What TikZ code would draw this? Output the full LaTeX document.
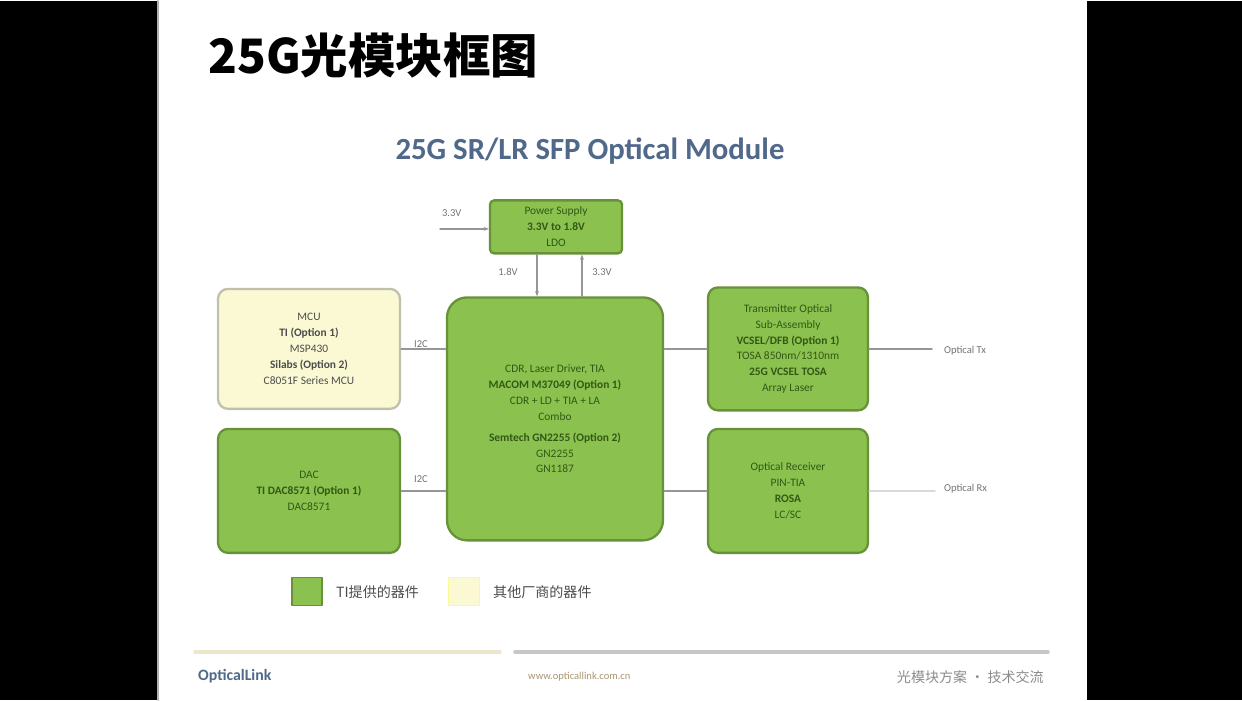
\documentclass[tikz,border=0pt]{standalone}
\usepackage{fontspec}
\setmainfont{Carlito}
\newfontfamily\cjk{Noto Sans CJK SC}
\usetikzlibrary{arrows.meta}
\definecolor{modgreen}{RGB}{139,193,78}
\definecolor{modedge}{RGB}{104,146,58}
\definecolor{modtext}{RGB}{50,88,22}
\definecolor{creamfill}{RGB}{250,249,212}
\definecolor{creamedge}{RGB}{192,192,172}
\definecolor{linegray}{RGB}{150,150,150}
\definecolor{subblue}{RGB}{80,104,138}

\begin{document}
\begin{tikzpicture}[line cap=round,line join=round, x=0.02cm,y=-0.02cm,
    greenbox/.style={draw=modedge,line width=1.3pt,fill=modgreen,text=modtext,align=center,
      inner sep=0pt,font=\fontsize{6.5}{9}\selectfont},
    creambox/.style={draw=creamedge,line width=1.3pt,fill=creamfill,text=black!70,align=center,
      inner sep=0pt,font=\fontsize{6.5}{9}\selectfont},
    wire/.style={draw=linegray,line width=0.8pt},
    tag/.style={text=black!55,font=\fontsize{6}{7}\selectfont,inner sep=1pt}]
	% slide frame
	\fill[black] (0,0) rectangle (1242,699);
	\fill[white] (157,0) rectangle (1087,699);
	\draw[black!30,line width=1pt] (158,0) -- (158,699);
	\useasboundingbox (0,0) rectangle (1242,699);
	% titles
	\node[anchor=west,inner sep=0pt] (title) at (208,55) {\cjk\bfseries\fontsize{27}{30}\selectfont 25G光模块框图};
	\node[text=subblue,inner sep=0pt] (subtitle) at (590,150) {\bfseries\fontsize{17.5}{20}\selectfont 25G SR/LR SFP Optical Module};
	% blocks
	\node[greenbox,rounded corners=0.08cm,minimum width=2.64cm,minimum height=1.06cm] (pwr) at (556,226)
		{Power Supply\\\textbf{3.3V to 1.8V}\\LDO};
	\node[greenbox,rounded corners=0.4cm,minimum width=4.32cm,minimum height=4.86cm] (core) at (555,418)
		{CDR, Laser Driver, TIA\\\textbf{MACOM M37049 (Option 1)}\\CDR + LD + TIA + LA\\Combo\\[3pt]
		\textbf{Semtech GN2255 (Option 2)}\\GN2255\\GN1187};
	\node[creambox,rounded corners=0.2cm,minimum width=3.64cm,minimum height=2.4cm] (mcu) at (309,348)
		{MCU\\\textbf{TI (Option 1)}\\MSP430\\\textbf{Silabs (Option 2)}\\C8051F Series MCU};
	\node[greenbox,rounded corners=0.2cm,minimum width=3.64cm,minimum height=2.48cm] (dac) at (309,490)
		{DAC\\\textbf{TI DAC8571 (Option 1)}\\DAC8571};
	\node[greenbox,rounded corners=0.2cm,minimum width=3.2cm,minimum height=2.46cm] (tosa) at (788,348)
		{Transmitter Optical\\Sub-Assembly\\\textbf{VCSEL/DFB (Option 1)}\\TOSA 850nm/1310nm\\
		\textbf{25G VCSEL TOSA}\\Array Laser};
	\node[greenbox,rounded corners=0.2cm,minimum width=3.2cm,minimum height=2.48cm] (rosa) at (788,490)
		{Optical Receiver\\PIN-TIA\\\textbf{ROSA}\\LC/SC};
	% power rails
	\coordinate (vin) at (440,228);
	\node[tag,anchor=south west] (vinlbl) at (440,218) {3.3V};
	\draw[wire,-{Stealth[length=3pt]}] (vin) -- (vin -| pwr.west);
	\draw[wire,-{Stealth[length=3pt]}] (pwr.south -| 537,0) -- (core.north -| 537,0);
	\draw[wire,{Stealth[length=3pt]}-] (pwr.south -| 582,0) -- (core.north -| 582,0);
	\node[tag] (railA) at (508,271) {1.8V};
	\node[tag] (railB) at (602,271) {3.3V};
	% links
	\draw[wire] (mcu.east) -- (mcu.east -| core.west);
	\node[tag] (busA) at (421,343) {I2C};
	\draw[wire] (dac.east) -- (dac.east -| core.west);
	\node[tag] (busB) at (421,478) {I2C};
	\draw[wire] (core.east |- tosa.west) -- (tosa.west);
	\draw[wire] (core.east |- rosa.west) -- (rosa.west);
	\coordinate (txend) at (932,348);
	\coordinate (rxend) at (935,490);
	\draw[wire] (tosa.east) -- (txend);
	\draw[wire,draw=black!15] (rosa.east) -- (rxend);
	\node[tag,anchor=west] (txlbl) at (942,350) {Optical Tx};
	\node[tag,anchor=west] (rxlbl) at (942,488) {Optical Rx};
	% legend
	\node[fill=modgreen,draw=modedge,line width=0.6pt,minimum width=0.6cm,minimum height=0.56cm] (keyA) at (307,591) {};
	\node[anchor=west,text=black!70,font=\cjk\fontsize{8}{9}\selectfont] (keyAlbl) at (330,591) {TI提供的器件};
	\node[fill=creamfill,draw=creamfill!70!yellow,line width=0.6pt,minimum width=0.62cm,minimum height=0.56cm] (keyB) at (464,591) {};
	\node[anchor=west,text=black!70,font=\cjk\fontsize{8}{9}\selectfont] (keyBlbl) at (487,591) {其他厂商的器件};
	% footer
	\draw[line width=2pt,color={rgb,255:red,238;green,230;blue,200}] (195,651) -- (500,651);
	\draw[line width=2pt,color=black!22] (515,651) -- (1048,651);
	\node[anchor=west,text=subblue,font=\bfseries\fontsize{9}{10}\selectfont] (footA) at (192,675) {OpticalLink};
	\node[anchor=west,text={rgb,255:red,170;green,150;blue,120},font=\fontsize{6}{7}\selectfont] (footB) at (522,676) {www.opticallink.com.cn};
	\node[anchor=east,text=black!45,font=\cjk\fontsize{8}{9}\selectfont] (footC) at (1050,676) {光模块方案 · 技术交流};
\end{tikzpicture}
\end{document}
